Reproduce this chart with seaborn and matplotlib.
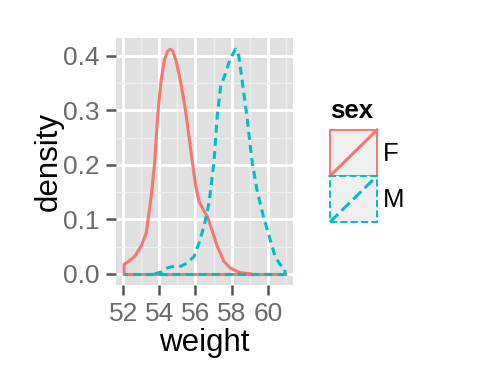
import numpy as np
import pandas as pd
import seaborn as sns
import matplotlib.pyplot as plt
from matplotlib.legend_handler import HandlerBase
from matplotlib.patches import Rectangle
from matplotlib.lines import Line2D

# density curves
weight_f = [52.05, 52.27, 52.64, 53.0, 53.28, 53.55, 53.74, 53.92, 54.1, 54.28,
            54.47, 54.61, 54.74, 54.92, 55.2, 55.47, 55.74, 56.02, 56.2, 56.47,
            56.66, 56.93, 57.2, 57.57, 57.94, 58.48, 59.03, 60.95]
density_f = [0.017, 0.022, 0.032, 0.051, 0.075, 0.142, 0.203, 0.295, 0.355, 0.392,
             0.409, 0.412, 0.409, 0.392, 0.349, 0.295, 0.227, 0.160, 0.133, 0.115,
             0.105, 0.078, 0.051, 0.023, 0.010, 0.002, 0.0, 0.0]

weight_m = [52.05, 53.74, 54.1, 54.47, 54.83, 55.2, 55.56, 55.93, 56.2, 56.47,
            56.75, 57.02, 57.2, 57.39, 57.66, 57.84, 58.03, 58.21, 58.39, 58.58,
            58.85, 59.12, 59.4, 59.76, 60.13, 60.4, 60.68, 60.95]
density_m = [0.0, 0.0, 0.003, 0.011, 0.014, 0.014, 0.020, 0.032, 0.057, 0.087,
             0.130, 0.203, 0.288, 0.343, 0.368, 0.386, 0.401, 0.412, 0.401, 0.355,
             0.288, 0.209, 0.154, 0.105, 0.063, 0.032, 0.017, 0.009]

sexes = ['F', 'M']
x_ticks = [52, 54, 56, 58, 60]
y_ticks = [0.0, 0.1, 0.2, 0.3, 0.4]

palette = {'F': '#F8766D', 'M': '#00BFC4'}
dash_style = {'F': '', 'M': (2.6, 1.7)}
LW = 2.2
FONT = 'Liberation Sans'


# ggplot draws the density as an outline: the curve with its end edges
# plus the baseline; zero runs at the ends sit on the baseline already
def outline(w, d, label):
    nz = [i for i, v in enumerate(d) if v > 0]
    i0 = max(nz[0] - 1, 0)
    i1 = min(nz[-1] + 1, len(d) - 1)
    xs = list(w[i0:i1 + 1])
    ys = list(d[i0:i1 + 1])
    if ys[0] > 0:
        xs.insert(0, xs[0])
        ys.insert(0, 0.0)
    if ys[-1] > 0:
        xs.append(xs[-1])
        ys.append(0.0)
    curve = pd.DataFrame({'weight': xs, 'density': ys, 'sex': label, 'part': 'curve'})
    base = pd.DataFrame({'weight': [w[-1], w[0]], 'density': [0.0, 0.0],
                         'sex': label, 'part': 'base'})
    return pd.concat([base, curve], ignore_index=True)


df = pd.concat([outline(weight_f, density_f, 'F'),
                outline(weight_m, density_m, 'M')], ignore_index=True)

fig = plt.figure(figsize=(4.8, 3.84), dpi=100)
ax = fig.add_axes([116 / 480, 1 - 285 / 384, 177 / 480, 247 / 384])
ax.set_facecolor('#E0E0E0')

sns.lineplot(data=df, x='weight', y='density', hue='sex', style='sex',
             units='part', palette=palette, dashes=dash_style, sort=False,
             estimator=None, linewidth=LW, legend=False, ax=ax)

# limits with ggplot's 5% expansion
lo, hi = min(weight_f + weight_m), max(weight_f + weight_m)
pad = 0.05 * (hi - lo)
ax.set_xlim(lo - pad, hi + pad)
ymax = max(density_f + density_m)
ax.set_ylim(-0.05 * ymax, 1.05 * ymax)

ax.set_xticks(x_ticks)
ax.set_xticklabels([str(t) for t in x_ticks])
ax.set_yticks(y_ticks)
ax.set_yticklabels([f'{t:.1f}' for t in y_ticks])
ax.set_xticks([t + 1 for t in x_ticks], minor=True)
ax.set_yticks([t + 0.05 for t in y_ticks[:-1]], minor=True)

ax.grid(which='major', color='white', linewidth=2.0)
ax.grid(which='minor', color='#EEEEEE', linewidth=1.0)
ax.set_axisbelow(True)
for s in ax.spines.values():
    s.set_visible(False)

ax.tick_params(which='major', length=7, width=1.8, color='#555555',
               labelsize=19, labelcolor='#6B6B6B')
ax.tick_params(axis='x', pad=5)
ax.tick_params(axis='y', pad=5)
ax.tick_params(which='minor', length=0)
for lab in ax.get_xticklabels() + ax.get_yticklabels():
    lab.set_fontfamily(FONT)

ax.set_xlabel('weight', fontsize=22.5, family=FONT, labelpad=2)
ax.set_ylabel('density', fontsize=22.5, family=FONT, labelpad=-1)


class KeyHandler(HandlerBase):
    def create_artists(self, legend, orig_handle, xdescent, ydescent,
                       width, height, fontsize, trans):
        col = orig_handle.get_color()
        ls = orig_handle.get_linestyle()
        x0, y0 = -xdescent, -ydescent
        box = Rectangle((x0, y0), width, height, facecolor='#EFEFEF',
                        edgecolor=col, linewidth=1.4, linestyle=ls,
                        transform=trans)
        diag = Line2D([x0, x0 + width], [y0, y0 + height], color=col,
                      linewidth=LW, linestyle=ls, transform=trans)
        return [box, diag]


handles = []
for s in sexes:
    if dash_style[s]:
        h = Line2D([], [], color=palette[s], linestyle=(0, dash_style[s]))
    else:
        h = Line2D([], [], color=palette[s], linestyle='-')
    handles.append(h)

LEG_FS = 18.5
fs_px = LEG_FS * 100 / 72
fig.text(330 / 480, 1 - 118 / 384, 'sex', fontsize=LEG_FS, family=FONT,
         weight='bold', ha='left', va='baseline')
leg = fig.legend(handles, sexes, loc='upper left',
                 bbox_to_anchor=(330 / 480, 1 - 130 / 384), frameon=False,
                 handler_map={Line2D: KeyHandler()},
                 prop={'family': FONT, 'size': LEG_FS},
                 handlelength=47 / fs_px,
                 handleheight=(46 / fs_px - 0.245) / 0.65,
                 labelspacing=0, handletextpad=0.23, borderpad=0,
                 borderaxespad=0)

fig.savefig('out.png', dpi=100, facecolor='white')
